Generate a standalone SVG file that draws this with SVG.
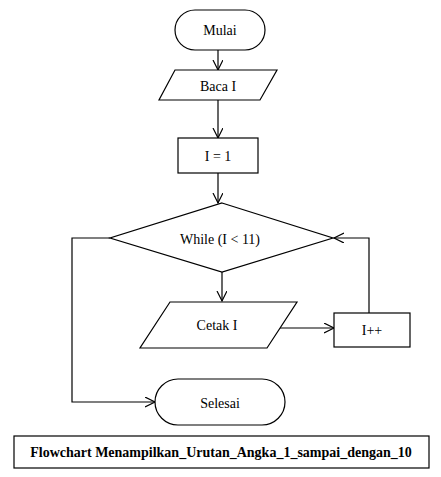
<svg xmlns="http://www.w3.org/2000/svg" width="441" height="477" viewBox="0 0 441 477">
<style>
.s{fill:#fff;stroke:#000;stroke-width:1.2}
.c{fill:none;stroke:#000;stroke-width:1.2}
.t{font-family:"Liberation Serif","Times New Roman",serif;font-size:14px;fill:#000;text-anchor:middle;dominant-baseline:central}
.b{font-weight:bold}
</style>
<defs>
<marker id="a" markerWidth="12" markerHeight="12" refX="10" refY="5" orient="auto" markerUnits="userSpaceOnUse">
<polyline points="0,0 10,5 0,10" fill="none" stroke="#000" stroke-width="1.2"/>
</marker>
</defs>
<rect width="441" height="477" fill="#fff"/>
<g id="connectors">
<line class="c" x1="218" y1="50" x2="218" y2="70" marker-end="url(#a)"/>
<line class="c" x1="218" y1="100" x2="218" y2="138" marker-end="url(#a)"/>
<line class="c" x1="218" y1="173" x2="218" y2="203" marker-end="url(#a)"/>
<line class="c" x1="222" y1="272" x2="222" y2="301" marker-end="url(#a)"/>
<line class="c" x1="278" y1="328" x2="334" y2="328" marker-end="url(#a)"/>
<polyline class="c" points="369,313 369,238 334,238" marker-end="url(#a)"/>
<polyline class="c" points="110,238 72,238 72,402 155,402" marker-end="url(#a)"/>
</g>
<g id="mulai">
<rect class="s" x="175" y="10" width="90" height="40" rx="20"/>
<text class="t" x="220" y="30">Mulai</text>
</g>
<g id="baca">
<polygon class="s" points="175,70 277,70 260,100 159,100"/>
<text class="t" x="218" y="86">Baca I</text>
</g>
<g id="init">
<rect class="s" x="178" y="138" width="80" height="35"/>
<text class="t" x="218" y="156">I = 1</text>
</g>
<g id="while">
<polygon class="s" points="222,203 333,238 222,272 110,238"/>
<text class="t" x="220" y="239">While (I &lt; 11)</text>
</g>
<g id="cetak">
<polygon class="s" points="170,302 297,302 267,348 140,348"/>
<text class="t" x="217" y="325">Cetak I</text>
</g>
<g id="inc">
<rect class="s" x="334" y="313" width="76" height="34"/>
<text class="t" x="372" y="330">I++</text>
</g>
<g id="selesai">
<rect class="s" x="155" y="379" width="130" height="46" rx="23"/>
<text class="t" x="220" y="403">Selesai</text>
</g>
<g id="title">
<rect class="s" x="14" y="436" width="415" height="32"/>
<text class="t b" x="221" y="452">Flowchart Menampilkan_Urutan_Angka_1_sampai_dengan_10</text>
</g>
</svg>
